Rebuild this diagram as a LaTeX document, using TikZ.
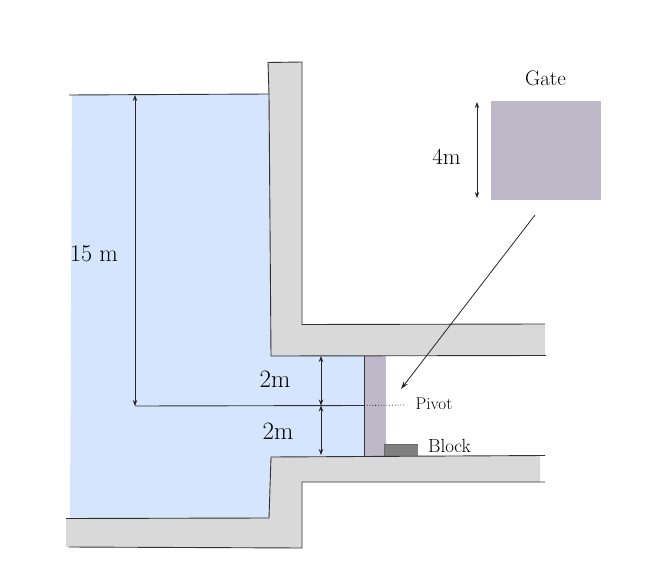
\documentclass[tikz,border=0pt]{standalone}
\usetikzlibrary{arrows.meta}
\definecolor{waterc}{RGB}{212,229,253}
\definecolor{wallc}{RGB}{217,217,217}
\definecolor{gatec}{RGB}{190,184,201}
\definecolor{blockc}{RGB}{128,128,128}
\definecolor{linec}{RGB}{50,50,50}
\tikzset{
  outline/.style={draw=linec,line width=0.9pt},
  dim/.style={draw=black!85,line width=0.8pt,{Stealth[length=6pt,width=4.5pt]}-{Stealth[length=6pt,width=4.5pt]}},
  lbl/.style={inner sep=0pt,anchor=center,text=black}
}
\begin{document}
\begin{tikzpicture}[x=1pt,y=-1pt]
\useasboundingbox (0,0) rectangle (661,572);
% water
\fill[waterc] (72,95) -- (269,94) -- (271,356) -- (364,356) -- (364,456) -- (271,457) -- (269,518) -- (70,518) -- cycle;
% walls
\fill[wallc] (268,62) -- (302,62) -- (302,324) -- (545,324) -- (545,355) -- (271,356) -- cycle;
\fill[wallc] (271,457) -- (540,456) -- (540,482) -- (302,482) -- (302,548) -- (66,547) -- (66,518) -- (269,518) -- cycle;
% gate and block
\fill[gatec] (364,356) rectangle (386,456);
\fill[blockc] (384,444) rectangle (417.5,456);
\draw[blockc!80!black,line width=0.5pt] (384,456) -- (384,444) -- (417.5,444);
\fill[gatec] (491,101) rectangle (601,200);
% outlines
\draw[outline] (69,95) -- (269,94) -- (268,62.5) -- (302,62) -- (302,324.5) -- (545,324);
\draw[outline] (269,94) -- (271,356) -- (546,355.5);
\draw[outline] (364,356) -- (364,456);
\draw[outline] (545,455.5) -- (271,457) -- (269,518) -- (66,518.5);
\draw[outline] (545,482) -- (302,482) -- (302,548) -- (69,547);
% named ends
\coordinate (levelA) at (135,95);
\coordinate (pivotL) at (135,406);
\coordinate (pivotM) at (321,405.5);
\coordinate (pivotG) at (364,405.5);
\coordinate (pivotR) at (406,405);
\coordinate (roofA) at (321,356);
\coordinate (floorA) at (321,455);
\coordinate (sqT) at (477,102);
\coordinate (sqB) at (477,198);
\coordinate (arrA) at (535,215);
\coordinate (arrB) at (401,389);
% connectors
\draw[outline] (pivotL) -- (pivotG);
\draw[dotted,line width=0.8pt,black!85] (pivotG) -- (pivotR);
\draw[dim] (levelA) -- (pivotL);
\draw[dim] (roofA) -- (pivotM);
\draw[dim] (pivotM) -- (floorA);
\draw[dim] (sqT) -- (sqB);
\draw[draw=black!85,line width=0.8pt,-{Stealth[length=8pt,width=5pt]}] (arrA) -- (arrB);
% labels
\node[lbl,font=\fontsize{24}{24}\selectfont] (lblH) at (94,254) {15 m};
\node[lbl,font=\fontsize{25}{25}\selectfont] (lblA) at (275,379) {2m};
\node[lbl,font=\fontsize{25}{25}\selectfont] (lblB) at (278,431) {2m};
\node[lbl,font=\fontsize{23}{23}\selectfont] (lblC) at (446.5,157) {4m};
\node[lbl,font=\fontsize{21}{21}\selectfont] (lblG) at (545.5,78) {Gate};
\node[lbl,font=\fontsize{17}{17}\selectfont] (lblP) at (434,404) {Pivot};
\node[lbl,font=\fontsize{19}{19}\selectfont] (lblK) at (449.5,446) {Block};
\end{tikzpicture}
\end{document}
